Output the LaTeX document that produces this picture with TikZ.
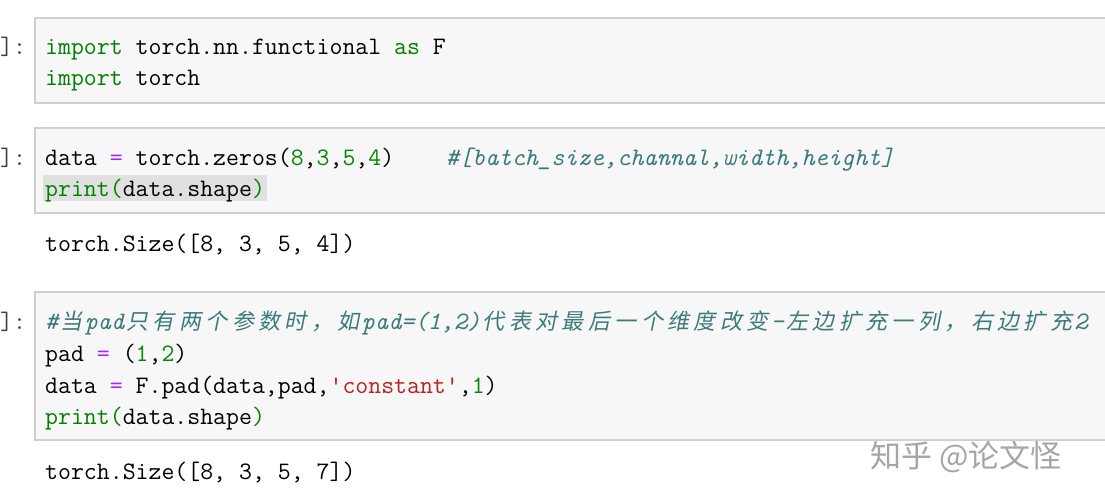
\documentclass[tikz,border=0pt]{standalone}
\usepackage{fontspec}
\setmonofont{Latin Modern Mono}
\newfontfamily\cjk[FakeSlant=0.2]{Noto Sans CJK SC}
\newfontfamily\cjkup{Noto Sans CJK SC}
\definecolor{kw}{HTML}{008000}
\definecolor{num}{HTML}{008800}
\definecolor{op}{HTML}{AA22FF}
\definecolor{cm}{HTML}{3D7B7B}
\definecolor{st}{HTML}{BA2121}
\definecolor{cellbg}{HTML}{F7F7F7}
\definecolor{cellbd}{HTML}{CFCFCF}
\newcommand\cc[1]{\makebox[26.4pt][c]{\fontsize{22}{22}\cjk #1}}
\newcommand\K[1]{\textcolor{kw}{\bfseries #1}}
\newcommand\N[1]{\textcolor{num}{#1}}
\newcommand\Q{\textcolor{op}{=}}
\begin{document}
\begin{tikzpicture}[x=1pt,y=-1pt,
  cell/.style={fill=cellbg,draw=cellbd,line width=1.2pt},
  code/.style={anchor=base west,inner sep=0pt,font=\fontsize{25.1}{25}\selectfont\ttfamily},
  prompt/.style={anchor=base west,inner sep=0pt,font=\fontsize{25.1}{25}\selectfont\ttfamily,text=black!75}]
\useasboundingbox[fill=white] (0,0) rectangle (1105,500);
\draw[cell] (35,18) rectangle (1112,103);
\draw[cell] (35,128) rectangle (1112,213);
\draw[cell] (35,292) rectangle (1112,440);
\fill[black!12] (43,175) rectangle (267,201);
\node[prompt] (p1) at (0,55) {]:};
\node[prompt] (p2) at (0,165) {]:};
\node[prompt] (p3) at (0,329) {]:};
\node[code] (l1) at (45,55) {\K{import} torch.nn.functional \K{as} F};
\node[code] (l2) at (45,86) {\K{import} torch};
\node[code] (l3) at (45,165) {data \Q{} torch.zeros(\N{8},\N{3},\N{5},\N{4})\ \ \ \ \textcolor{cm}{\itshape \#[batch\_size,channal,width,height]}};
\node[code] (l4) at (45,196) {\textcolor{kw}{print(}data.shape\textcolor{kw}{)}};
\node[code] (o1) at (45,251) {torch.Size([8, 3, 5, 4])};
\node[code] (l5) at (45,329) {\color{cm}\itshape \#\cc{当}pad\cc{只}\cc{有}\cc{两}\cc{个}\cc{参}\cc{数}\cc{时}\cc{，}\cc{如}pad=(1,2)\cc{代}\cc{表}\cc{对}\cc{最}\cc{后}\cc{一}\cc{个}\cc{维}\cc{度}\cc{改}\cc{变}-\cc{左}\cc{边}\cc{扩}\cc{充}\cc{一}\cc{列}\cc{，}\cc{右}\cc{边}\cc{扩}\cc{充}2};
\node[code] (l6) at (45,361) {pad \Q{} (\N{1},\N{2})};
\node[code] (l7) at (45,393) {data \Q{} F.pad(data,pad,\textcolor{st}{'constant'},\N{1})};
\node[code] (l8) at (45,424) {\textcolor{kw}{print(}data.shape\textcolor{kw}{)}};
\node[code] (o2) at (45,479) {torch.Size([8, 3, 5, 7])};
\node[anchor=base west,inner sep=0pt,text=black!35,font=\fontsize{31}{31}\selectfont\cjkup] (wm) at (870,467) {知乎 @论文怪};
\end{tikzpicture}
\end{document}
